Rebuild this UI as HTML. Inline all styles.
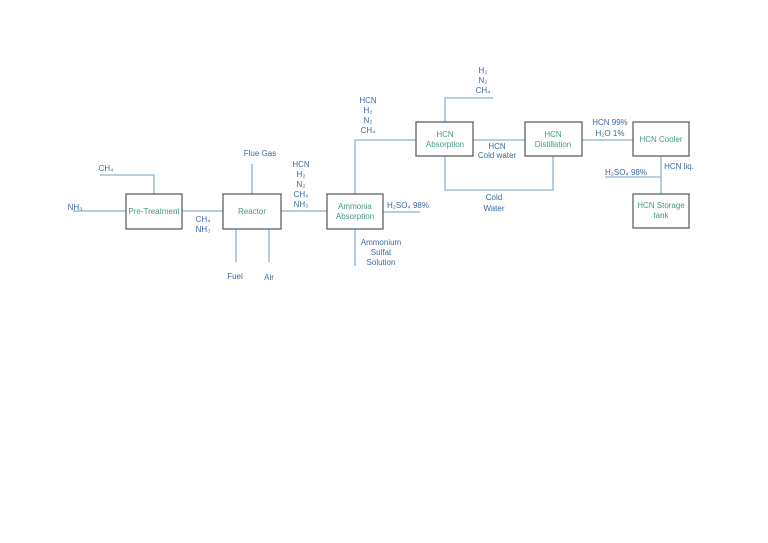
<!DOCTYPE html>
<html><head><style>body{margin:0;background:#fff}svg{display:block}</style></head><body>
<svg width="768" height="543" viewBox="0 0 768 543" xmlns="http://www.w3.org/2000/svg" font-family="Liberation Sans, sans-serif" font-size="8">
<g stroke="#8db2d0" stroke-width="1.3" fill="none">
<path d="M73 211H126"/>
<path d="M100 175H154V194"/>
<path d="M182 211H223"/>
<path d="M252 194V164"/>
<path d="M236 229V262"/>
<path d="M269 229V262"/>
<path d="M281 211H327"/>
<path d="M383 212H420"/>
<path d="M355 229V266"/>
<path d="M355 194V140H416"/>
<path d="M445 122V98H493"/>
<path d="M473 140H525"/>
<path d="M445 156V190H553V156"/>
<path d="M582 140H633"/>
<path d="M661 156V194"/>
<path d="M605 177H661"/>
</g>
<g stroke="#555" stroke-width="1.2" fill="#fff">
<rect x="126" y="194" width="56" height="35"/>
<rect x="223" y="194" width="58" height="35"/>
<rect x="327" y="194" width="56" height="35"/>
<rect x="416" y="122" width="57" height="34"/>
<rect x="525" y="122" width="57" height="34"/>
<rect x="633" y="122" width="56" height="34"/>
<rect x="633" y="194" width="56" height="34"/>
</g>
<g fill="#3f9a8a" text-anchor="middle">
<text x="154" y="214">Pre-Treatment</text>
<text x="252" y="214">Reactor</text>
<text x="355" y="209">Ammonia</text><text x="355" y="219">Absorption</text>
<text x="445" y="137">HCN</text><text x="445" y="147">Absorption</text>
<text x="553" y="137">HCN</text><text x="553" y="147">Distillation</text>
<text x="661" y="142">HCN Cooler</text>
<text x="661" y="208">HCN Storage</text><text x="661" y="218">tank</text>
</g>
<g fill="#3b6b9c" text-anchor="middle">
<text x="75" y="210">NH₃</text>
<text x="106" y="171">CH₄</text>
<text x="203" y="222">CH₄</text><text x="203" y="232">NH₃</text>
<text x="260" y="156">Flue Gas</text>
<text x="235" y="279">Fuel</text>
<text x="269" y="280">Air</text>
<text x="301" y="167">HCN</text><text x="301" y="177">H₂</text><text x="301" y="187">N₂</text><text x="301" y="197">CH₄</text><text x="301" y="207">NH₃</text>
<text x="408" y="208">H₂SO₄ 98%</text>
<text x="381" y="245">Ammonium</text><text x="381" y="255">Sulfat</text><text x="381" y="265">Solution</text>
<text x="368" y="103">HCN</text><text x="368" y="113">H₂</text><text x="368" y="123">N₂</text><text x="368" y="133">CH₄</text>
<text x="483" y="73">H₂</text><text x="483" y="83">N₂</text><text x="483" y="93">CH₄</text>
<text x="497" y="149">HCN</text><text x="497" y="158">Cold water</text>
<text x="494" y="200">Cold</text><text x="494" y="211">Water</text>
<text x="610" y="125">HCN 99%</text><text x="610" y="136">H₂O 1%</text>
<text x="679" y="169">HCN liq.</text>
<text x="626" y="175">H₂SO₄ 98%</text>
</g>
</svg>
</body></html>
